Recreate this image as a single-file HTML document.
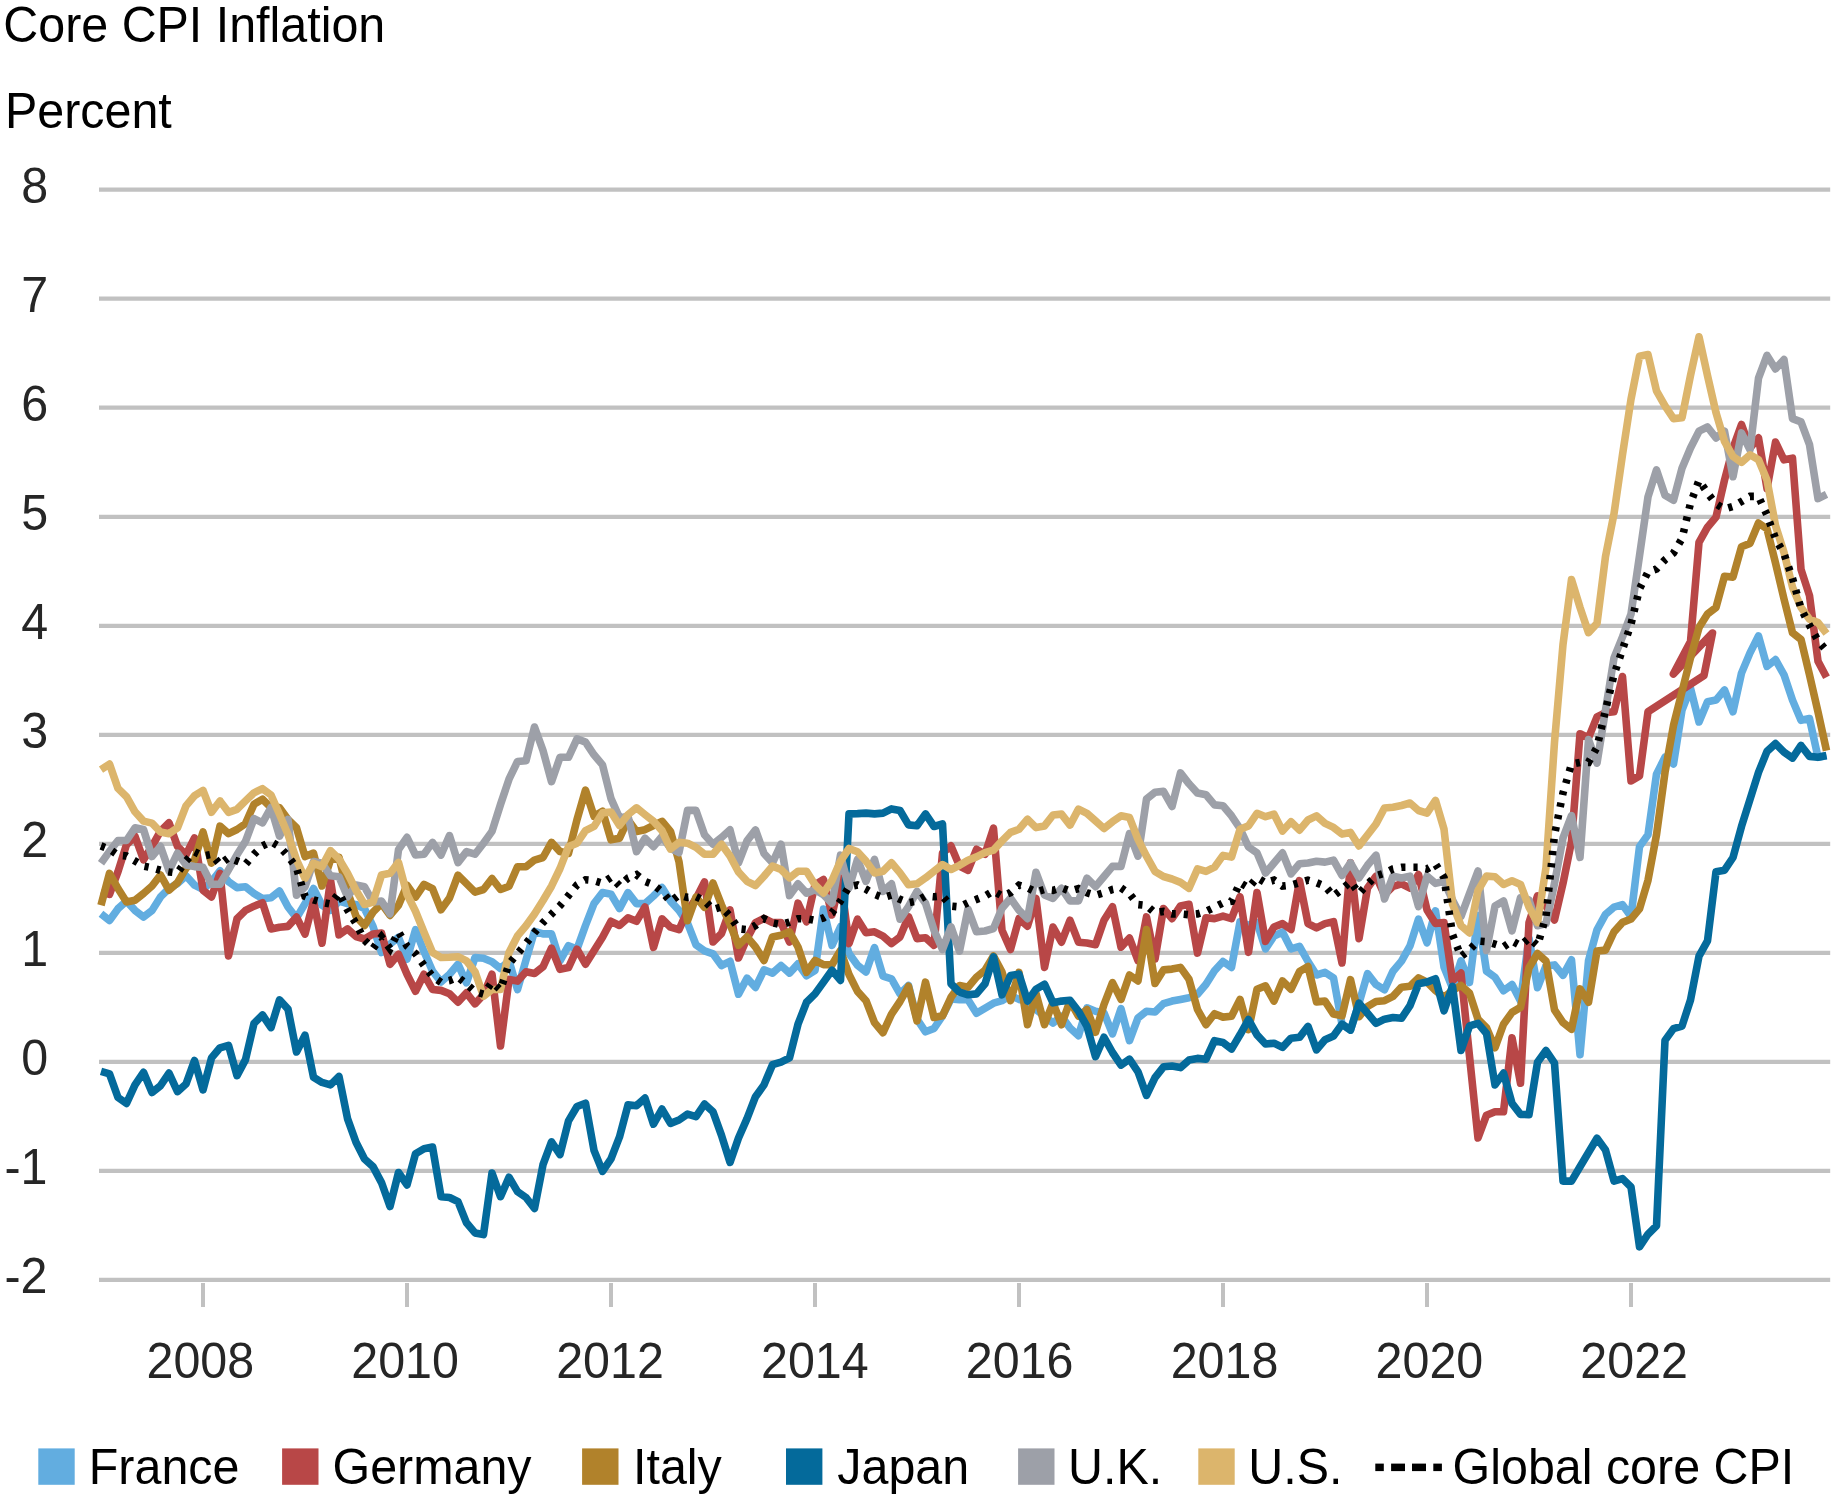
<!DOCTYPE html>
<html><head><meta charset="utf-8"><title>Core CPI Inflation</title>
<style>
html,body{margin:0;padding:0;background:#fff;}
body{width:1840px;height:1499px;position:relative;overflow:hidden;font-family:"Liberation Sans",sans-serif;}
.t{position:absolute;white-space:nowrap;line-height:1;}
</style></head><body>
<svg width="1840" height="1499" viewBox="0 0 1840 1499" style="position:absolute;left:0;top:0">
<line x1="99" x2="1830.2" y1="189.7" y2="189.7" stroke="#c1c1c1" stroke-width="4.2"/>
<line x1="99" x2="1830.2" y1="298.7" y2="298.7" stroke="#c1c1c1" stroke-width="4.2"/>
<line x1="99" x2="1830.2" y1="407.7" y2="407.7" stroke="#c1c1c1" stroke-width="4.2"/>
<line x1="99" x2="1830.2" y1="516.8" y2="516.8" stroke="#c1c1c1" stroke-width="4.2"/>
<line x1="99" x2="1830.2" y1="625.8" y2="625.8" stroke="#c1c1c1" stroke-width="4.2"/>
<line x1="99" x2="1830.2" y1="734.8" y2="734.8" stroke="#c1c1c1" stroke-width="4.2"/>
<line x1="99" x2="1830.2" y1="843.8" y2="843.8" stroke="#c1c1c1" stroke-width="4.2"/>
<line x1="99" x2="1830.2" y1="952.8" y2="952.8" stroke="#c1c1c1" stroke-width="4.2"/>
<line x1="99" x2="1830.2" y1="1061.9" y2="1061.9" stroke="#c1c1c1" stroke-width="4.2"/>
<line x1="99" x2="1830.2" y1="1170.9" y2="1170.9" stroke="#c1c1c1" stroke-width="4.2"/>
<line x1="99" x2="1830.2" y1="1279.9" y2="1279.9" stroke="#c1c1c1" stroke-width="4.2"/>
<line x1="203.0" x2="203.0" y1="1283" y2="1307" stroke="#c1c1c1" stroke-width="4"/>
<line x1="407.0" x2="407.0" y1="1283" y2="1307" stroke="#c1c1c1" stroke-width="4"/>
<line x1="611.0" x2="611.0" y1="1283" y2="1307" stroke="#c1c1c1" stroke-width="4"/>
<line x1="815.0" x2="815.0" y1="1283" y2="1307" stroke="#c1c1c1" stroke-width="4"/>
<line x1="1019.0" x2="1019.0" y1="1283" y2="1307" stroke="#c1c1c1" stroke-width="4"/>
<line x1="1223.0" x2="1223.0" y1="1283" y2="1307" stroke="#c1c1c1" stroke-width="4"/>
<line x1="1427.0" x2="1427.0" y1="1283" y2="1307" stroke="#c1c1c1" stroke-width="4"/>
<line x1="1631.0" x2="1631.0" y1="1283" y2="1307" stroke="#c1c1c1" stroke-width="4"/>
<path d="M101.0 913.8 L109.5 920.5 L118.0 908.7 L126.5 901.1 L135.0 910.4 L143.5 917.1 L152.0 910.4 L160.5 896.9 L169.0 888.5 L177.5 883.4 L186.0 875.8 L194.5 885.1 L203.0 889.3 L211.5 881.7 L220.0 870.8 L228.5 881.7 L237.0 887.6 L245.5 886.8 L254.0 893.5 L262.5 898.6 L271.0 897.7 L279.5 891.0 L288.0 907.0 L296.5 918.0 L305.0 903.6 L313.5 888.5 L322.0 905.3 L330.5 910.4 L339.0 901.1 L347.5 903.6 L356.0 904.5 L364.5 908.7 L373.0 926.4 L381.5 952.5 L390.0 944.1 L398.5 937.3 L407.0 959.2 L415.5 929.7 L424.0 951.6 L432.5 971.0 L441.0 981.9 L449.5 974.3 L458.0 964.2 L466.5 982.8 L475.0 957.5 L483.5 958.3 L492.0 961.7 L500.5 968.5 L509.0 960.9 L517.5 989.5 L526.0 960.0 L534.5 931.4 L543.0 933.9 L551.5 933.9 L560.0 960.9 L568.5 945.7 L577.0 949.1 L585.5 925.5 L594.0 903.6 L602.5 892.6 L611.0 894.3 L619.5 908.6 L628.0 892.6 L636.5 903.6 L645.0 903.6 L653.5 896.0 L662.0 887.6 L670.5 901.1 L679.0 910.3 L687.5 923.0 L696.0 944.9 L704.5 950.8 L713.0 953.8 L721.5 965.5 L730.0 961.3 L738.5 994.2 L747.0 978.2 L755.5 987.4 L764.0 969.8 L772.5 973.1 L781.0 965.5 L789.5 973.1 L798.0 963.9 L806.5 975.7 L815.0 970.6 L823.5 909.1 L832.0 945.3 L840.5 926.8 L849.0 953.5 L857.5 965.3 L866.0 972.0 L874.5 947.6 L883.0 976.2 L891.5 978.8 L900.0 993.9 L908.5 985.5 L917.0 1019.2 L925.5 1031.8 L934.0 1028.5 L942.5 1015.8 L951.0 999.0 L959.5 999.8 L968.0 999.8 L976.5 1013.3 L985.0 1008.2 L993.5 1003.2 L1002.0 1000.7 L1010.5 995.6 L1019.0 999.4 L1027.5 1001.1 L1036.0 1009.5 L1044.5 1016.2 L1053.0 1023.0 L1061.5 1016.2 L1070.0 1028.0 L1078.5 1035.6 L1087.0 1007.8 L1095.5 1011.2 L1104.0 1012.9 L1112.5 1033.9 L1121.0 1008.7 L1129.5 1040.7 L1138.0 1017.9 L1146.5 1011.2 L1155.0 1012.0 L1163.5 1003.6 L1172.0 1001.1 L1180.5 999.4 L1189.0 997.7 L1197.5 994.3 L1206.0 984.2 L1214.5 970.8 L1223.0 961.5 L1231.5 967.4 L1240.0 921.9 L1248.5 925.3 L1257.0 922.7 L1265.5 948.9 L1274.0 936.2 L1282.5 932.0 L1291.0 948.9 L1299.5 946.3 L1308.0 961.5 L1316.5 975.0 L1325.0 972.4 L1333.5 977.9 L1342.0 1024.2 L1350.5 1030.1 L1359.0 1003.2 L1367.5 973.7 L1376.0 984.6 L1384.5 989.7 L1393.0 971.2 L1401.5 961.1 L1410.0 945.9 L1418.5 919.2 L1427.0 942.8 L1435.5 910.8 L1444.0 967.0 L1452.5 988.0 L1461.0 960.8 L1469.5 982.5 L1478.0 915.4 L1486.5 971.1 L1495.0 977.3 L1503.5 990.8 L1512.0 984.6 L1520.5 1001.1 L1529.0 938.1 L1537.5 987.7 L1546.0 966.0 L1554.5 964.9 L1563.0 975.3 L1571.5 959.8 L1580.0 1054.6 L1588.5 960.8 L1597.0 929.8 L1605.5 914.3 L1614.0 907.1 L1622.5 904.7 L1631.0 916.5 L1639.5 846.6 L1648.0 834.8 L1656.5 774.1 L1665.0 757.3 L1673.5 764.0 L1682.0 710.1 L1690.5 688.3 L1699.0 722.0 L1707.5 701.7 L1716.0 700.1 L1724.5 689.9 L1733.0 711.8 L1741.5 673.1 L1750.0 652.9 L1758.5 636.0 L1767.0 666.4 L1775.5 659.6 L1784.0 674.8 L1792.5 700.1 L1801.0 720.3 L1809.5 718.6 L1818.0 757.3 L1826.5 755.7" fill="none" stroke="#62ade0" stroke-width="7.6" stroke-linejoin="round" stroke-linecap="butt"/>
<path d="M101.0 891.8 L109.5 894.4 L118.0 871.6 L126.5 844.7 L135.0 836.2 L143.5 859.8 L152.0 846.4 L160.5 831.2 L169.0 822.8 L177.5 846.4 L186.0 854.8 L194.5 837.9 L203.0 890.2 L211.5 896.9 L220.0 873.3 L228.5 955.9 L237.0 918.8 L245.5 910.4 L254.0 906.2 L262.5 902.8 L271.0 928.9 L279.5 927.2 L288.0 926.4 L296.5 917.1 L305.0 934.0 L313.5 901.1 L322.0 943.2 L330.5 880.1 L339.0 934.8 L347.5 928.9 L356.0 936.5 L364.5 939.0 L373.0 934.0 L381.5 933.1 L390.0 964.3 L398.5 954.2 L407.0 974.3 L415.5 991.2 L424.0 974.3 L432.5 989.5 L441.0 990.4 L449.5 993.7 L458.0 1002.1 L466.5 992.9 L475.0 1003.8 L483.5 994.6 L492.0 974.3 L500.5 1046.0 L509.0 979.4 L517.5 981.1 L526.0 971.8 L534.5 973.5 L543.0 966.8 L551.5 948.2 L560.0 969.3 L568.5 967.6 L577.0 949.1 L585.5 964.2 L594.0 950.8 L602.5 937.3 L611.0 921.3 L619.5 925.5 L628.0 917.9 L636.5 921.3 L645.0 907.0 L653.5 947.4 L662.0 918.8 L670.5 927.2 L679.0 929.7 L687.5 910.6 L696.0 898.8 L704.5 882.0 L713.0 942.0 L721.5 933.5 L730.0 909.9 L738.5 958.0 L747.0 938.6 L755.5 922.6 L764.0 918.4 L772.5 922.6 L781.0 922.6 L789.5 942.0 L798.0 903.2 L806.5 921.7 L815.0 884.7 L823.5 879.6 L832.0 915.0 L840.5 877.9 L849.0 943.6 L857.5 919.2 L866.0 932.7 L874.5 931.8 L883.0 936.1 L891.5 943.6 L900.0 936.9 L908.5 916.7 L917.0 938.6 L925.5 937.7 L934.0 945.3 L942.5 853.0 L951.0 845.9 L959.5 866.1 L968.0 870.4 L976.5 849.3 L985.0 854.3 L993.5 828.2 L1002.0 930.2 L1010.5 949.5 L1019.0 918.6 L1027.5 926.2 L1036.0 898.4 L1044.5 967.4 L1053.0 927.0 L1061.5 942.2 L1070.0 920.3 L1078.5 942.2 L1087.0 943.0 L1095.5 944.7 L1104.0 920.3 L1112.5 906.8 L1121.0 947.2 L1129.5 938.0 L1138.0 960.7 L1146.5 916.9 L1155.0 959.0 L1163.5 908.5 L1172.0 918.6 L1180.5 906.0 L1189.0 904.3 L1197.5 953.1 L1206.0 917.7 L1214.5 918.6 L1223.0 916.1 L1231.5 918.6 L1240.0 896.7 L1248.5 952.3 L1257.0 892.5 L1265.5 941.3 L1274.0 927.0 L1282.5 923.6 L1291.0 929.5 L1299.5 880.7 L1308.0 923.6 L1316.5 927.9 L1325.0 923.6 L1333.5 921.7 L1342.0 963.0 L1350.5 862.8 L1359.0 938.6 L1367.5 888.0 L1376.0 876.2 L1384.5 894.8 L1393.0 886.4 L1401.5 883.8 L1410.0 888.0 L1418.5 874.6 L1427.0 909.9 L1435.5 923.4 L1444.0 922.6 L1452.5 980.7 L1461.0 973.1 L1469.5 1056.2 L1478.0 1138.0 L1486.5 1115.2 L1495.0 1111.8 L1503.5 1111.8 L1512.0 1037.7 L1520.5 1083.2 L1529.0 922.6 L1537.5 895.8 L1546.0 906.1 L1554.5 920.0 L1563.0 883.4 L1571.5 841.6 L1580.0 733.7 L1588.5 737.9 L1597.0 716.8 L1605.5 712.6 L1614.0 711.8 L1622.5 676.5 L1631.0 780.9 L1639.5 775.9 L1648.0 711.8 L1704.0 675.5 L1712.5 633.0 L1673.3 674.0 L1690.5 641.5 L1699.0 542.4 L1707.5 527.2 L1716.0 517.1 L1724.5 480.1 L1733.0 448.0 L1741.5 424.5 L1750.0 448.0 L1758.5 437.9 L1767.0 488.5 L1775.5 442.1 L1784.0 459.8 L1792.5 458.2 L1801.0 569.3 L1809.5 595.6 L1818.0 661.3 L1826.5 677.3" fill="none" stroke="#b84747" stroke-width="7.6" stroke-linejoin="round" stroke-linecap="butt"/>
<path d="M101.0 905.3 L109.5 873.3 L118.0 888.5 L126.5 902.0 L135.0 900.3 L143.5 893.5 L152.0 886.0 L160.5 875.0 L169.0 890.2 L177.5 882.6 L186.0 868.3 L194.5 859.8 L203.0 832.0 L211.5 863.2 L220.0 826.1 L228.5 833.7 L237.0 829.5 L245.5 823.6 L254.0 804.2 L262.5 799.2 L271.0 807.6 L279.5 807.6 L288.0 819.4 L296.5 827.8 L305.0 856.5 L313.5 853.1 L322.0 886.0 L330.5 859.8 L339.0 857.3 L347.5 891.8 L356.0 916.3 L364.5 925.5 L373.0 912.1 L381.5 903.6 L390.0 915.4 L398.5 905.3 L407.0 885.3 L415.5 897.1 L424.0 884.5 L432.5 888.7 L441.0 909.8 L449.5 898.0 L458.0 875.2 L466.5 883.6 L475.0 892.1 L483.5 889.5 L492.0 878.6 L500.5 889.5 L509.0 886.2 L517.5 866.8 L526.0 866.8 L534.5 860.1 L543.0 857.5 L551.5 842.4 L560.0 851.6 L568.5 853.3 L577.0 819.6 L585.5 790.1 L594.0 816.2 L602.5 811.2 L611.0 839.8 L619.5 838.2 L628.0 819.6 L636.5 831.4 L645.0 829.7 L653.5 825.5 L662.0 821.3 L670.5 831.4 L679.0 861.7 L687.5 920.7 L696.0 897.1 L704.5 907.2 L713.0 883.0 L721.5 904.9 L730.0 924.3 L738.5 945.3 L747.0 936.9 L755.5 947.0 L764.0 960.5 L772.5 936.9 L781.0 935.2 L789.5 931.8 L798.0 947.0 L806.5 972.3 L815.0 960.5 L823.5 964.7 L832.0 964.7 L840.5 950.4 L849.0 974.5 L857.5 991.4 L866.0 1000.7 L874.5 1022.6 L883.0 1032.7 L891.5 1014.1 L900.0 1001.5 L908.5 986.3 L917.0 1020.9 L925.5 982.1 L934.0 1017.5 L942.5 1015.8 L951.0 997.3 L959.5 985.5 L968.0 987.2 L976.5 977.1 L985.0 970.3 L993.5 956.0 L1002.0 972.0 L1010.5 1000.7 L1019.0 972.4 L1027.5 1024.7 L1036.0 993.5 L1044.5 1024.7 L1053.0 1002.8 L1061.5 1024.7 L1070.0 1001.1 L1078.5 1016.2 L1087.0 1009.5 L1095.5 1032.3 L1104.0 1004.5 L1112.5 982.6 L1121.0 999.4 L1129.5 975.0 L1138.0 980.9 L1146.5 929.5 L1155.0 983.4 L1163.5 969.9 L1172.0 969.1 L1180.5 967.4 L1189.0 979.2 L1197.5 1009.5 L1206.0 1024.7 L1214.5 1013.7 L1223.0 1017.1 L1231.5 1016.2 L1240.0 999.4 L1248.5 1029.7 L1257.0 989.3 L1265.5 985.9 L1274.0 1001.1 L1282.5 980.9 L1291.0 989.3 L1299.5 971.6 L1308.0 966.5 L1316.5 1001.9 L1325.0 1001.1 L1333.5 1014.1 L1342.0 1015.8 L1350.5 979.6 L1359.0 1016.7 L1367.5 1006.5 L1376.0 1001.5 L1384.5 1000.7 L1393.0 996.4 L1401.5 987.2 L1410.0 986.3 L1418.5 977.9 L1427.0 982.1 L1435.5 990.5 L1444.0 997.3 L1452.5 990.5 L1461.0 985.5 L1469.5 993.1 L1478.0 1019.2 L1486.5 1027.6 L1495.0 1047.8 L1503.5 1024.2 L1512.0 1012.4 L1520.5 1007.4 L1529.0 967.8 L1537.5 953.5 L1546.0 961.1 L1554.5 1009.9 L1563.0 1022.6 L1571.5 1029.3 L1580.0 988.9 L1588.5 1002.3 L1597.0 951.0 L1605.5 950.1 L1614.0 931.9 L1622.5 922.4 L1631.0 919.0 L1639.5 908.9 L1648.0 880.3 L1656.5 834.8 L1665.0 772.4 L1673.5 725.3 L1682.0 691.6 L1690.5 657.9 L1699.0 627.6 L1707.5 614.1 L1716.0 607.4 L1724.5 576.2 L1733.0 577.1 L1741.5 546.7 L1750.0 543.4 L1758.5 523.0 L1767.0 528.9 L1775.5 563.0 L1784.0 599.0 L1792.5 632.7 L1801.0 639.4 L1809.5 674.8 L1818.0 711.8 L1826.5 750.6" fill="none" stroke="#b1822b" stroke-width="7.6" stroke-linejoin="round" stroke-linecap="butt"/>
<path d="M101.0 1071.4 L109.5 1073.9 L118.0 1097.5 L126.5 1103.4 L135.0 1084.9 L143.5 1072.3 L152.0 1092.5 L160.5 1085.7 L169.0 1073.1 L177.5 1091.6 L186.0 1084.0 L194.5 1060.5 L203.0 1089.9 L211.5 1057.9 L220.0 1047.8 L228.5 1045.3 L237.0 1075.6 L245.5 1059.6 L254.0 1023.4 L262.5 1015.0 L271.0 1027.6 L279.5 999.8 L288.0 1009.1 L296.5 1052.0 L305.0 1035.2 L313.5 1077.3 L322.0 1082.4 L330.5 1084.9 L339.0 1076.5 L347.5 1118.6 L356.0 1142.2 L364.5 1159.0 L373.0 1166.6 L381.5 1182.6 L390.0 1206.5 L398.5 1172.5 L407.0 1184.9 L415.5 1153.7 L424.0 1148.7 L432.5 1147.0 L441.0 1196.7 L449.5 1197.5 L458.0 1201.7 L466.5 1222.8 L475.0 1232.9 L483.5 1234.6 L492.0 1173.1 L500.5 1196.7 L509.0 1177.3 L517.5 1191.6 L526.0 1197.5 L534.5 1208.5 L543.0 1164.7 L551.5 1141.9 L560.0 1154.6 L568.5 1120.9 L577.0 1106.5 L585.5 1103.2 L594.0 1150.4 L602.5 1171.4 L611.0 1158.8 L619.5 1136.9 L628.0 1104.9 L636.5 1105.7 L645.0 1098.1 L653.5 1124.2 L662.0 1109.1 L670.5 1123.4 L679.0 1120.0 L687.5 1114.1 L696.0 1116.7 L704.5 1104.0 L713.0 1111.8 L721.5 1135.4 L730.0 1162.4 L738.5 1138.0 L747.0 1118.6 L755.5 1096.7 L764.0 1084.9 L772.5 1064.7 L781.0 1062.1 L789.5 1057.9 L798.0 1024.2 L806.5 1002.3 L815.0 993.9 L823.5 982.1 L832.0 970.3 L840.5 980.4 L849.0 813.9 L857.5 813.6 L866.0 813.1 L874.5 813.9 L883.0 813.1 L891.5 808.9 L900.0 810.5 L908.5 824.9 L917.0 825.7 L925.5 813.9 L934.0 826.5 L942.5 824.0 L951.0 983.8 L959.5 992.2 L968.0 994.8 L976.5 993.9 L985.0 983.8 L993.5 956.8 L1002.0 994.8 L1010.5 975.4 L1019.0 974.1 L1027.5 1001.1 L1036.0 989.3 L1044.5 984.2 L1053.0 1002.8 L1061.5 1001.1 L1070.0 1000.2 L1078.5 1011.2 L1087.0 1026.4 L1095.5 1056.7 L1104.0 1037.3 L1112.5 1052.5 L1121.0 1065.1 L1129.5 1059.2 L1138.0 1071.8 L1146.5 1095.4 L1155.0 1077.7 L1163.5 1066.8 L1172.0 1066.0 L1180.5 1067.6 L1189.0 1060.1 L1197.5 1058.4 L1206.0 1059.2 L1214.5 1040.7 L1223.0 1042.4 L1231.5 1049.1 L1240.0 1034.8 L1248.5 1019.6 L1257.0 1034.8 L1265.5 1044.0 L1274.0 1043.2 L1282.5 1047.4 L1291.0 1038.2 L1299.5 1037.3 L1308.0 1026.4 L1316.5 1049.9 L1325.0 1039.8 L1333.5 1036.0 L1342.0 1024.2 L1350.5 1030.1 L1359.0 1003.2 L1367.5 1013.3 L1376.0 1023.4 L1384.5 1019.2 L1393.0 1017.5 L1401.5 1018.3 L1410.0 1005.7 L1418.5 983.8 L1427.0 982.1 L1435.5 978.8 L1444.0 1010.8 L1452.5 986.3 L1461.0 1050.4 L1469.5 1025.9 L1478.0 1023.4 L1486.5 1033.5 L1495.0 1084.9 L1503.5 1073.1 L1512.0 1103.4 L1520.5 1114.4 L1529.0 1114.6 L1537.5 1062.3 L1546.0 1050.5 L1554.5 1063.2 L1563.0 1181.1 L1571.5 1181.1 L1580.0 1166.8 L1588.5 1152.5 L1597.0 1138.2 L1605.5 1149.9 L1614.0 1181.1 L1622.5 1178.6 L1631.0 1187.0 L1639.5 1246.8 L1648.0 1234.2 L1656.5 1225.8 L1665.0 1040.4 L1673.5 1028.6 L1682.0 1026.1 L1690.5 1000.0 L1699.0 956.1 L1707.5 940.9 L1716.0 871.8 L1724.5 870.2 L1733.0 857.5 L1741.5 826.4 L1750.0 799.4 L1758.5 772.4 L1767.0 751.4 L1775.5 743.6 L1784.0 752.2 L1792.5 758.1 L1801.0 745.5 L1809.5 756.4 L1818.0 757.3 L1826.5 755.6" fill="none" stroke="#046a9b" stroke-width="7.6" stroke-linejoin="round" stroke-linecap="butt"/>
<path d="M101.0 863.2 L109.5 851.4 L118.0 840.5 L126.5 840.5 L135.0 827.8 L143.5 829.5 L152.0 856.5 L160.5 846.4 L169.0 870.8 L177.5 853.1 L186.0 864.9 L194.5 866.6 L203.0 867.4 L211.5 884.3 L220.0 884.3 L228.5 869.9 L237.0 854.8 L245.5 841.3 L254.0 818.6 L262.5 822.8 L271.0 807.6 L279.5 836.2 L288.0 819.4 L296.5 895.2 L305.0 886.8 L313.5 861.5 L322.0 863.2 L330.5 875.8 L339.0 876.7 L347.5 896.9 L356.0 885.1 L364.5 886.8 L373.0 902.0 L381.5 901.1 L390.0 913.8 L398.5 849.7 L407.0 837.3 L415.5 855.0 L424.0 854.2 L432.5 842.4 L441.0 855.0 L449.5 835.6 L458.0 862.6 L466.5 851.6 L475.0 854.2 L483.5 843.2 L492.0 831.4 L500.5 804.5 L509.0 779.2 L517.5 761.5 L526.0 760.7 L534.5 727.0 L543.0 750.5 L551.5 781.7 L560.0 757.3 L568.5 757.3 L577.0 738.8 L585.5 742.1 L594.0 754.8 L602.5 764.9 L611.0 798.6 L619.5 817.9 L628.0 816.2 L636.5 851.6 L645.0 838.2 L653.5 846.6 L662.0 836.5 L670.5 848.3 L679.0 852.5 L687.5 810.4 L696.0 810.4 L704.5 834.8 L713.0 844.2 L721.5 837.5 L730.0 829.9 L738.5 862.8 L747.0 840.9 L755.5 829.9 L764.0 853.5 L772.5 862.8 L781.0 844.2 L789.5 895.6 L798.0 883.8 L806.5 893.1 L815.0 889.7 L823.5 894.8 L832.0 903.2 L840.5 855.2 L849.0 888.0 L857.5 859.4 L866.0 881.3 L874.5 859.4 L883.0 891.4 L891.5 883.8 L900.0 919.2 L908.5 906.6 L917.0 891.4 L925.5 903.2 L934.0 930.2 L942.5 949.5 L951.0 926.8 L959.5 951.2 L968.0 909.1 L976.5 931.8 L985.0 931.0 L993.5 928.5 L1002.0 908.3 L1010.5 898.2 L1019.0 910.2 L1027.5 918.6 L1036.0 872.3 L1044.5 895.0 L1053.0 898.4 L1061.5 888.3 L1070.0 900.9 L1078.5 900.9 L1087.0 878.2 L1095.5 886.6 L1104.0 876.5 L1112.5 866.4 L1121.0 866.4 L1129.5 833.5 L1138.0 856.2 L1146.5 799.0 L1155.0 792.2 L1163.5 791.4 L1172.0 806.5 L1180.5 772.9 L1189.0 783.8 L1197.5 793.1 L1206.0 794.8 L1214.5 804.9 L1223.0 805.7 L1231.5 815.8 L1240.0 828.5 L1248.5 847.0 L1257.0 852.9 L1265.5 873.1 L1274.0 863.0 L1282.5 852.9 L1291.0 873.9 L1299.5 863.8 L1308.0 863.0 L1316.5 861.3 L1325.0 862.1 L1333.5 860.2 L1342.0 875.4 L1350.5 862.8 L1359.0 877.9 L1367.5 865.3 L1376.0 855.2 L1384.5 899.0 L1393.0 876.2 L1401.5 877.9 L1410.0 876.2 L1418.5 906.6 L1427.0 876.2 L1435.5 883.4 L1444.0 881.3 L1452.5 899.9 L1461.0 916.4 L1469.5 893.7 L1478.0 871.0 L1486.5 950.5 L1495.0 906.1 L1503.5 900.9 L1512.0 930.9 L1520.5 897.8 L1529.0 899.9 L1537.5 925.7 L1546.0 923.6 L1554.5 883.4 L1563.0 837.9 L1571.5 815.6 L1580.0 857.4 L1588.5 739.6 L1597.0 763.2 L1605.5 710.1 L1614.0 657.9 L1622.5 636.9 L1631.0 614.1 L1639.5 555.9 L1648.0 496.9 L1656.5 469.9 L1665.0 495.2 L1673.5 500.3 L1682.0 468.3 L1690.5 448.0 L1699.0 431.2 L1707.5 427.0 L1716.0 437.9 L1724.5 431.2 L1733.0 476.7 L1741.5 432.9 L1750.0 449.7 L1758.5 378.1 L1767.0 355.4 L1775.5 368.9 L1784.0 359.6 L1792.5 418.6 L1801.0 421.9 L1809.5 444.7 L1818.0 498.6 L1826.5 494.4" fill="none" stroke="#9da0a8" stroke-width="7.6" stroke-linejoin="round" stroke-linecap="butt"/>
<path d="M101.0 769.7 L109.5 764.1 L118.0 788.4 L126.5 796.7 L135.0 811.8 L143.5 821.1 L152.0 823.1 L160.5 832.0 L169.0 833.7 L177.5 827.8 L186.0 805.9 L194.5 795.8 L203.0 790.4 L211.5 812.3 L220.0 800.9 L228.5 812.3 L237.0 809.3 L245.5 800.9 L254.0 792.8 L262.5 788.7 L271.0 795.0 L279.5 814.3 L288.0 834.6 L296.5 859.8 L305.0 878.4 L313.5 863.2 L322.0 866.6 L330.5 850.6 L339.0 859.0 L347.5 873.3 L356.0 890.2 L364.5 904.5 L373.0 902.0 L381.5 875.0 L390.0 873.3 L398.5 862.4 L407.0 894.3 L415.5 911.2 L424.0 932.2 L432.5 952.4 L441.0 957.5 L449.5 957.2 L458.0 956.7 L466.5 960.9 L475.0 971.8 L483.5 996.2 L492.0 989.5 L500.5 989.5 L509.0 952.4 L517.5 935.9 L526.0 925.8 L534.5 914.0 L543.0 900.5 L551.5 886.2 L560.0 868.5 L568.5 846.6 L577.0 843.2 L585.5 830.6 L594.0 826.4 L602.5 812.9 L611.0 812.0 L619.5 825.5 L628.0 814.6 L636.5 807.8 L645.0 814.6 L653.5 821.3 L662.0 830.6 L670.5 849.1 L679.0 842.4 L687.5 843.2 L696.0 847.4 L704.5 854.2 L713.0 854.3 L721.5 844.2 L730.0 856.0 L738.5 872.0 L747.0 881.3 L755.5 885.5 L764.0 876.2 L772.5 866.1 L781.0 869.5 L789.5 877.9 L798.0 871.2 L806.5 871.2 L815.0 884.7 L823.5 893.1 L832.0 880.5 L840.5 861.1 L849.0 848.5 L857.5 851.8 L866.0 861.1 L874.5 872.9 L883.0 871.2 L891.5 862.8 L900.0 872.9 L908.5 884.7 L917.0 883.8 L925.5 877.9 L934.0 871.2 L942.5 864.5 L951.0 869.5 L959.5 865.3 L968.0 860.2 L976.5 856.9 L985.0 852.7 L993.5 850.1 L1002.0 840.9 L1010.5 832.4 L1019.0 829.3 L1027.5 819.2 L1036.0 827.6 L1044.5 825.9 L1053.0 815.0 L1061.5 814.1 L1070.0 825.1 L1078.5 809.1 L1087.0 813.3 L1095.5 820.9 L1104.0 828.5 L1112.5 821.7 L1121.0 815.8 L1129.5 817.5 L1138.0 839.4 L1146.5 856.2 L1155.0 871.4 L1163.5 876.5 L1172.0 879.0 L1180.5 882.4 L1189.0 888.3 L1197.5 868.9 L1206.0 871.4 L1214.5 867.2 L1223.0 855.4 L1231.5 857.1 L1240.0 829.3 L1248.5 825.9 L1257.0 813.3 L1265.5 816.7 L1274.0 814.1 L1282.5 831.0 L1291.0 821.7 L1299.5 830.1 L1308.0 820.0 L1316.5 815.8 L1325.0 823.4 L1333.5 827.4 L1342.0 834.1 L1350.5 832.4 L1359.0 845.9 L1367.5 835.0 L1376.0 824.0 L1384.5 808.0 L1393.0 807.2 L1401.5 805.5 L1410.0 803.0 L1418.5 810.5 L1427.0 813.1 L1435.5 800.4 L1444.0 829.1 L1452.5 904.0 L1461.0 925.7 L1469.5 932.9 L1478.0 890.6 L1486.5 876.1 L1495.0 876.7 L1503.5 884.4 L1512.0 880.8 L1520.5 884.4 L1529.0 907.1 L1537.5 922.6 L1546.0 867.5 L1554.5 742.2 L1563.0 644.5 L1571.5 579.6 L1580.0 607.4 L1588.5 632.7 L1597.0 623.4 L1605.5 556.5 L1614.0 513.8 L1622.5 454.8 L1631.0 399.2 L1639.5 356.2 L1648.0 354.5 L1656.5 390.8 L1665.0 405.9 L1673.5 418.6 L1682.0 417.7 L1690.5 375.6 L1699.0 336.8 L1707.5 375.6 L1716.0 412.7 L1724.5 441.3 L1733.0 456.5 L1741.5 462.4 L1750.0 454.8 L1758.5 459.8 L1767.0 480.1 L1775.5 525.5 L1784.0 552.5 L1792.5 587.2 L1801.0 607.4 L1809.5 619.2 L1818.0 622.6 L1826.5 633.5" fill="none" stroke="#dcb56c" stroke-width="7.6" stroke-linejoin="round" stroke-linecap="butt"/>
<path d="M101.0 845.9 L109.5 849.2 L118.0 855.1 L126.5 856.0 L135.0 861.0 L143.5 866.1 L152.0 867.8 L160.5 870.3 L169.0 872.0 L177.5 872.8 L186.0 861.0 L194.5 851.8 L203.0 856.0 L211.5 854.3 L220.0 864.4 L228.5 857.7 L237.0 861.0 L245.5 864.4 L254.0 854.3 L262.5 845.9 L271.0 841.7 L279.5 846.7 L288.0 856.0 L296.5 867.8 L305.0 896.4 L313.5 899.8 L322.0 902.3 L330.5 904.0 L339.0 893.0 L347.5 909.9 L356.0 923.4 L364.5 940.2 L373.0 948.6 L381.5 936.9 L390.0 948.6 L398.5 931.8 L407.0 946.1 L415.5 953.6 L424.0 965.4 L432.5 976.4 L441.0 982.3 L449.5 980.6 L458.0 977.2 L466.5 984.0 L475.0 991.6 L483.5 994.1 L492.0 982.3 L500.5 989.9 L509.0 963.8 L517.5 953.6 L526.0 943.5 L534.5 932.6 L543.0 922.5 L551.5 914.1 L560.0 905.6 L568.5 895.5 L577.0 884.8 L585.5 879.8 L594.0 880.6 L602.5 883.2 L611.0 877.3 L619.5 885.7 L628.0 878.1 L636.5 874.7 L645.0 881.5 L653.5 884.8 L662.0 891.6 L670.5 901.7 L679.0 895.0 L687.5 897.5 L696.0 896.6 L704.5 900.8 L713.0 909.5 L721.5 906.9 L730.0 916.2 L738.5 928.8 L747.0 929.7 L755.5 925.5 L764.0 918.7 L772.5 922.9 L781.0 924.6 L789.5 922.1 L798.0 918.7 L806.5 918.7 L815.0 920.4 L823.5 917.9 L832.0 912.8 L840.5 901.0 L849.0 886.7 L857.5 885.0 L866.0 889.2 L874.5 894.3 L883.0 897.7 L891.5 895.1 L900.0 899.4 L908.5 902.7 L917.0 901.0 L925.5 896.0 L934.0 896.8 L942.5 896.0 L951.0 906.1 L959.5 906.9 L968.0 902.7 L976.5 899.4 L985.0 896.0 L993.5 890.9 L1002.0 896.0 L1010.5 892.6 L1019.0 885.2 L1027.5 887.8 L1036.0 892.0 L1044.5 889.5 L1053.0 890.3 L1061.5 887.8 L1070.0 891.1 L1078.5 888.6 L1087.0 892.8 L1095.5 895.4 L1104.0 892.8 L1112.5 889.5 L1121.0 887.8 L1129.5 893.7 L1138.0 904.6 L1146.5 905.5 L1155.0 913.0 L1163.5 911.4 L1172.0 913.9 L1180.5 913.9 L1189.0 914.7 L1197.5 913.9 L1206.0 911.4 L1214.5 907.2 L1223.0 902.9 L1231.5 901.3 L1240.0 882.7 L1248.5 887.8 L1257.0 877.7 L1265.5 882.7 L1274.0 880.2 L1282.5 886.1 L1291.0 885.2 L1299.5 882.7 L1308.0 880.2 L1316.5 882.7 L1325.0 886.1 L1333.5 896.0 L1342.0 889.2 L1350.5 881.7 L1359.0 893.5 L1367.5 884.2 L1376.0 875.8 L1384.5 873.2 L1393.0 869.0 L1401.5 867.3 L1410.0 867.3 L1418.5 867.3 L1427.0 869.0 L1435.5 864.0 L1444.0 877.5 L1452.5 934.5 L1461.0 956.6 L1469.5 949.8 L1478.0 941.0 L1486.5 941.7 L1495.0 944.2 L1503.5 946.9 L1512.0 941.0 L1520.5 945.6 L1529.0 938.1 L1537.5 945.6 L1546.0 916.3 L1554.5 835.0 L1563.0 793.0 L1571.5 764.1 L1580.0 762.4 L1588.5 762.4 L1597.0 747.2 L1605.5 710.2 L1614.0 674.8 L1622.5 649.5 L1631.0 624.2 L1639.5 588.9 L1648.0 572.0 L1656.5 569.0 L1665.0 559.7 L1673.5 553.0 L1682.0 538.5 L1690.5 503.2 L1699.0 480.4 L1707.5 493.0 L1716.0 504.0 L1724.5 509.1 L1733.0 506.5 L1741.5 501.5 L1750.0 496.4 L1758.5 496.4 L1767.0 515.0 L1775.5 538.5 L1784.0 553.7 L1792.5 578.3 L1801.0 608.6 L1809.5 625.4 L1818.0 640.6 L1826.5 650.7" fill="none" stroke="#000" stroke-width="7.6" stroke-dasharray="4.2 8" stroke-linejoin="miter"/>
<rect x="38.3" y="1448.4" width="36.4" height="36.4" fill="#62ade0"/>
<rect x="282.1" y="1448.4" width="36.4" height="36.4" fill="#b84747"/>
<rect x="582.1" y="1448.4" width="36.4" height="36.4" fill="#b1822b"/>
<rect x="786.0" y="1448.4" width="36.4" height="36.4" fill="#046a9b"/>
<rect x="1018.1" y="1448.4" width="36.4" height="36.4" fill="#9da0a8"/>
<rect x="1198.3" y="1448.4" width="36.4" height="36.4" fill="#dcb56c"/>
<rect x="1375.3" y="1463.6" width="8.5" height="7.5" fill="#000"/>
<rect x="1391.1" y="1463.6" width="13.9" height="7.5" fill="#000"/>
<rect x="1412.0" y="1463.6" width="14.0" height="7.5" fill="#000"/>
<rect x="1433.3" y="1463.6" width="8.6" height="7.5" fill="#000"/>
</svg>
<div class="t" style="left:3.3px;top:0.7px;font-size:48.40px;color:#000;transform:scaleY(1.037);transform-origin:0 84.65%;">Core CPI Inflation</div>
<div class="t" style="left:5.0px;top:87.2px;font-size:48.40px;color:#000;transform:scaleY(1.037);transform-origin:0 84.65%;">Percent</div>
<div class="t" style="left:21.3px;top:161.9px;font-size:48.40px;color:#262626;transform:scaleY(1.020);transform-origin:0 84.65%;">8</div>
<div class="t" style="left:21.3px;top:270.9px;font-size:48.40px;color:#262626;transform:scaleY(1.020);transform-origin:0 84.65%;">7</div>
<div class="t" style="left:21.3px;top:380.0px;font-size:48.40px;color:#262626;transform:scaleY(1.020);transform-origin:0 84.65%;">6</div>
<div class="t" style="left:21.3px;top:489.0px;font-size:48.40px;color:#262626;transform:scaleY(1.020);transform-origin:0 84.65%;">5</div>
<div class="t" style="left:21.3px;top:598.0px;font-size:48.40px;color:#262626;transform:scaleY(1.020);transform-origin:0 84.65%;">4</div>
<div class="t" style="left:21.3px;top:707.0px;font-size:48.40px;color:#262626;transform:scaleY(1.020);transform-origin:0 84.65%;">3</div>
<div class="t" style="left:21.3px;top:816.0px;font-size:48.40px;color:#262626;transform:scaleY(1.020);transform-origin:0 84.65%;">2</div>
<div class="t" style="left:21.3px;top:925.1px;font-size:48.40px;color:#262626;transform:scaleY(1.020);transform-origin:0 84.65%;">1</div>
<div class="t" style="left:21.3px;top:1034.1px;font-size:48.40px;color:#262626;transform:scaleY(1.020);transform-origin:0 84.65%;">0</div>
<div class="t" style="left:4.5px;top:1143.1px;font-size:48.40px;color:#262626;transform:scaleY(1.020);transform-origin:0 84.65%;">-1</div>
<div class="t" style="left:4.5px;top:1252.1px;font-size:48.40px;color:#262626;transform:scaleY(1.020);transform-origin:0 84.65%;">-2</div>
<div class="t" style="left:200.3px;top:1336.7px;font-size:48.40px;color:#262626;transform:translateX(-50%) scaleY(1.020);transform-origin:50% 84.65%;">2008</div>
<div class="t" style="left:405.1px;top:1336.7px;font-size:48.40px;color:#262626;transform:translateX(-50%) scaleY(1.020);transform-origin:50% 84.65%;">2010</div>
<div class="t" style="left:610.0px;top:1336.7px;font-size:48.40px;color:#262626;transform:translateX(-50%) scaleY(1.020);transform-origin:50% 84.65%;">2012</div>
<div class="t" style="left:814.8px;top:1336.7px;font-size:48.40px;color:#262626;transform:translateX(-50%) scaleY(1.020);transform-origin:50% 84.65%;">2014</div>
<div class="t" style="left:1019.7px;top:1336.7px;font-size:48.40px;color:#262626;transform:translateX(-50%) scaleY(1.020);transform-origin:50% 84.65%;">2016</div>
<div class="t" style="left:1224.5px;top:1336.7px;font-size:48.40px;color:#262626;transform:translateX(-50%) scaleY(1.020);transform-origin:50% 84.65%;">2018</div>
<div class="t" style="left:1429.4px;top:1336.7px;font-size:48.40px;color:#262626;transform:translateX(-50%) scaleY(1.020);transform-origin:50% 84.65%;">2020</div>
<div class="t" style="left:1634.2px;top:1336.7px;font-size:48.40px;color:#262626;transform:translateX(-50%) scaleY(1.020);transform-origin:50% 84.65%;">2022</div>
<div class="t" style="left:88.8px;top:1443.1px;font-size:48.40px;color:#000;transform:scaleY(1.037);transform-origin:0 84.65%;">France</div>
<div class="t" style="left:332.5px;top:1443.1px;font-size:48.40px;color:#000;transform:scaleY(1.037);transform-origin:0 84.65%;">Germany</div>
<div class="t" style="left:633.0px;top:1443.1px;font-size:48.40px;color:#000;transform:scaleY(1.037);transform-origin:0 84.65%;">Italy</div>
<div class="t" style="left:837.3px;top:1443.1px;font-size:48.40px;color:#000;transform:scaleY(1.037);transform-origin:0 84.65%;">Japan</div>
<div class="t" style="left:1068.0px;top:1443.1px;font-size:48.40px;color:#000;transform:scaleY(1.037);transform-origin:0 84.65%;">U.K.</div>
<div class="t" style="left:1248.3px;top:1443.1px;font-size:48.40px;color:#000;transform:scaleY(1.037);transform-origin:0 84.65%;">U.S.</div>
<div class="t" style="left:1452.6px;top:1443.1px;font-size:48.40px;color:#000;transform:scaleY(1.037);transform-origin:0 84.65%;">Global core CPI</div>
</body></html>
